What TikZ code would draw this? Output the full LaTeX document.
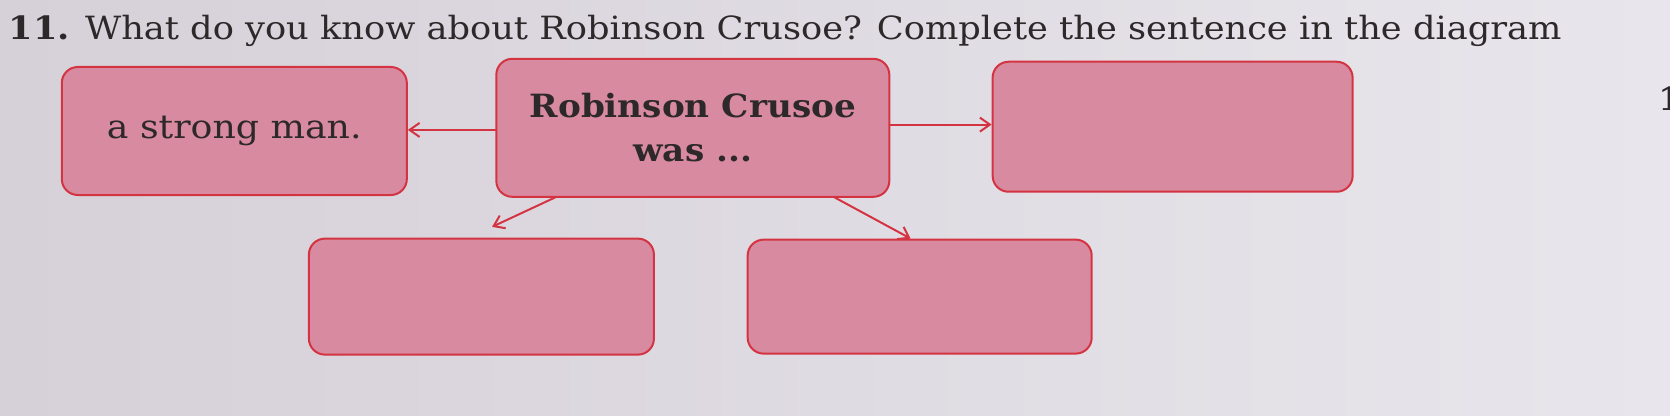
\documentclass[tikz,border=0pt]{standalone}
\usepackage{fontspec}
\setmainfont{DejaVu Serif}
\newfontfamily\widefont[FakeStretch=1.10]{DejaVu Serif}
\newfontfamily\boldwide[FakeStretch=1.07]{DejaVu Serif}
\usetikzlibrary{arrows.meta}
\definecolor{paperL}{RGB}{214,208,216}
\definecolor{paperR}{RGB}{232,230,236}
\definecolor{boxpink}{RGB}{216,138,160}
\definecolor{boxred}{RGB}{212,52,66}
\definecolor{ink}{RGB}{45,40,42}
\begin{document}
\begin{tikzpicture}[x=0.5325pt,y=-0.5325pt,
  box/.style={draw=boxred, fill=boxpink, line width=1pt, rounded corners=8pt, inner sep=0pt, text=ink},
  link/.style={draw=boxred, line width=1pt, -{Straight Barb[length=5pt,width=7pt]}}]
\shade[left color=paperL, right color=paperR] (0,0) rectangle (1568,390);
\useasboundingbox (0,0) rectangle (1568,390);
\node[anchor=base west, text=ink, inner sep=0pt, font=\widefont\fontsize{16}{19}\selectfont] (title) at (8,37)
  {\textbf{11.} What do you know about Robinson Crusoe? Complete the sentence in the diagram};
\node[box, minimum width=172.5pt, minimum height=64pt, font=\widefont\fontsize{16.5}{20}\selectfont] (left) at (220,123) {a strong man.};
\node[box, minimum width=196.5pt, minimum height=69pt, align=center, font=\boldwide\bfseries\fontsize{16}{22}\selectfont] (center) at (650.5,120) {Robinson Crusoe\\was ...};
\node[box, minimum width=180pt, minimum height=65pt] (right) at (1101,119) {};
\node[box, minimum width=172.5pt, minimum height=58pt] (bl) at (452,278.5) {};
\node[box, minimum width=172pt, minimum height=57pt] (br) at (863.5,278.5) {};
\coordinate (cl) at (466,122);
\coordinate (cr) at (835,117);
\coordinate (cbl) at (522,185);
\coordinate (cbr) at (783,185);
\coordinate (blt) at (462,213);
\coordinate (brt) at (855,224);
\draw[link] (cl) -- (cl -| left.east);
\draw[link] (cr) -- (cr -| right.west);
\draw[link] (cbl) -- (blt);
\draw[link] (cbr) -- (brt);
\node[anchor=base west, inner sep=0pt, text=ink, font=\widefont\bfseries\fontsize{16}{19}\selectfont] (edge) at (1557,104) {1};
\end{tikzpicture}
\end{document}
